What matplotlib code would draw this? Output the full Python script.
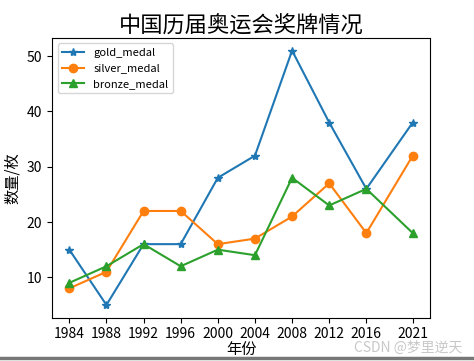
import matplotlib
matplotlib.use('Agg')
import matplotlib.pyplot as plt

plt.rcParams['font.family'] = ['Noto Sans CJK SC', 'DejaVu Sans']
plt.rcParams['axes.unicode_minus'] = False

years = [1984, 1988, 1992, 1996, 2000, 2004, 2008, 2012, 2016, 2021]
gold = [15, 5, 16, 16, 28, 32, 51, 38, 26, 38]
silver = [8, 11, 22, 22, 16, 17, 21, 27, 18, 32]
bronze = [9, 12, 16, 12, 15, 14, 28, 23, 26, 18]

fig = plt.figure(figsize=(4.74, 3.61), dpi=100)
ax = fig.add_axes([0.11, 0.12, 0.797, 0.775])

ax.plot(years, gold, marker='*', label='gold_medal')
ax.plot(years, silver, marker='o', label='silver_medal')
ax.plot(years, bronze, marker='^', label='bronze_medal')

ax.set_xticks(years)
ax.tick_params(labelsize=10)
ax.set_title('中国历届奥运会奖牌情况', fontsize=16, pad=4)
ax.set_xlabel('年份', fontsize=11, labelpad=0)
ax.set_ylabel('数量/枚', fontsize=11)
ax.legend(loc='upper left', fontsize=8)

fig.text(0.975, 0.036, 'CSDN @梦里逆天', ha='right', va='center',
         fontsize=10, color='#c8c8c8')
fig.add_artist(plt.Line2D([0, 1], [0.008, 0.008], transform=fig.transFigure,
                          color='#777777', lw=2.5))

fig.savefig('out.png', dpi=100)
